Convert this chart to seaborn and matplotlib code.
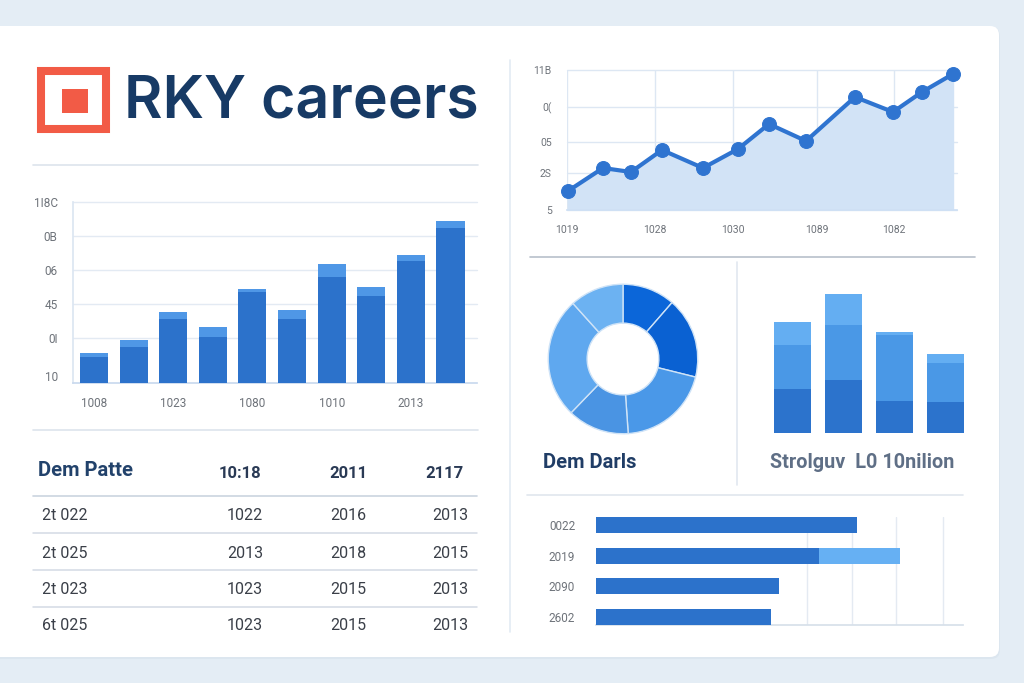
import numpy as np
import matplotlib
matplotlib.use('Agg')
import matplotlib.pyplot as plt
import seaborn as sns
from matplotlib.patches import FancyBboxPatch, Rectangle

# ---- data ----
bar_x = list(range(10))
bar_cap = [30, 43, 71, 56, 94, 73, 119, 96, 128, 162]
bar_main = [26, 36, 64, 46, 91, 64, 106, 87, 122, 155]
bar_xtick_labels = ['1008', '', '1023', '', '1080', '', '1010', '', '2013', '']
bar_ytick_vals = [7, 45, 79, 113, 147, 181]
bar_ytick_labels = ['10', '0I', '45', '06', '0B', '1I8C']

line_x = [1, 36, 64, 95, 136, 171, 202, 239, 288, 326, 355, 386]
line_y = [19, 42, 38, 60, 42, 61, 86, 69, 113, 98, 118, 136]
line_xtick_vals = [0, 88, 166, 250, 327]
line_xtick_labels = ['1019', '1028', '1030', '1089', '1082']
line_ytick_vals = [0, 37, 68, 103, 140]
line_ytick_labels = ['5', '2S', '05', '0(', '11B']

donut_vals = [41, 63, 72, 48, 94, 42]
donut_colors = ['#0b66d9', '#0a61d2', '#4a98e8', '#4a94e3', '#5fa8ef', '#6cb2f2']

stack_cats = ['a', 'b', 'c', 'd']
stack_low = [44, 53, 32, 31]
stack_mid = [44, 55, 66, 39]
stack_top = [23, 31, 3, 9]

hbar_labels = ['0022', '2019', '2090', '2602']
hbar_main = [261, 223, 183, 175]
hbar_extra = [0, 81, 0, 0]

table_header = ['Dem Patte', '10:18', '2011', '2117']
table_rows = [['2t 022', '1022', '2016', '2013'],
              ['2t 025', '2013', '2018', '2015'],
              ['2t 023', '1023', '2015', '2013'],
              ['6t 025', '1023', '2015', '2013']]

# ---- colours ----
dark = '#2c72cb'
light = '#4f97e6'
navy = '#173a65'

sns.set_theme(style='white')
plt.rcParams['font.family'] = ['Roboto', 'DejaVu Sans']

W, H = 1024, 683
fig = plt.figure(figsize=(10.24, 6.83), dpi=100)
fig.patch.set_facecolor('#e4edf5')


def rect(x0, y0, x1, y1):
    return [x0 / W, 1 - y1 / H, (x1 - x0) / W, (y1 - y0) / H]


# background card + decorations
bg = fig.add_axes([0, 0, 1, 1])
bg.set_xlim(0, W)
bg.set_ylim(H, 0)
bg.axis('off')
bg.add_patch(FancyBboxPatch((-20, 27), 1020, 632, boxstyle='round,pad=0,rounding_size=9',
                            fc='#d8e2ec', ec='none', alpha=0.6))
bg.add_patch(FancyBboxPatch((-20, 26), 1019, 631, boxstyle='round,pad=0,rounding_size=9',
                            fc='white', ec='none'))

# logo
bg.add_patch(Rectangle((41, 71), 65, 58, fill=False, ec='#f25b46', lw=5.8))
bg.add_patch(Rectangle((62, 89), 26, 24, fc='#f25b46', ec='none'))
bg.text(124, 118, 'RKY careers', fontsize=42.5, fontweight='semibold', color=navy,
        family=['Inter', 'DejaVu Sans'], va='baseline', ha='left')

# separator lines
bg.plot([33, 478], [165, 165], color='#dde4ec', lw=1.2)
bg.plot([33, 478], [430, 430], color='#dde4ec', lw=1.2)
bg.plot([510, 510], [60, 632], color='#e3ebf4', lw=1.2)
bg.plot([530, 975], [257, 257], color='#b8c0cb', lw=1.2)
bg.plot([737, 737], [262, 485], color='#e1e8f0', lw=1.2)
bg.plot([527, 963], [495, 495], color='#e0e6ee', lw=1.2)

# table
bg.text(38, 471, table_header[0], fontsize=14.5, fontweight='bold', color='#22426b', va='center')
col_x = [240, 348, 445]
for cx, t in zip(col_x, table_header[1:]):
    bg.text(cx, 473, t, fontsize=12, fontweight='bold', color='#2a3a55', ha='center', va='center')
bg.plot([33, 477], [496, 496], color='#cbd4df', lw=1.2)
row_y = [515, 553, 589, 626]
for ry, row in zip(row_y, table_rows):
    bg.text(42, ry, row[0], fontsize=11.5, color='#3a3f48', va='center')
    for cx, v in zip([245, 348, 450], row[1:]):
        bg.text(cx, ry, v, fontsize=11.5, color='#3a3f48', ha='center', va='center')
for ly in [533, 570, 607]:
    bg.plot([33, 477], [ly, ly], color='#d3dae4', lw=1.1)

# panel labels
bg.text(543, 462, 'Dem Darls', fontsize=14.5, fontweight='bold', color='#203d66', va='center')
bg.text(770, 462, 'Strolguv  L0 10nilion', fontsize=14.3, fontweight='bold', color='#5f6f86', va='center')

# ---- bar chart ----
ax1 = fig.add_axes(rect(73, 202, 477, 383))
for y in bar_ytick_vals[1:]:
    ax1.axhline(y, color='#e3eaf3', lw=1, zorder=0, clip_on=False)
sns.barplot(x=bar_x, y=bar_cap, color=light, width=0.71, saturation=1, linewidth=0,
            ax=ax1, zorder=2)
sns.barplot(x=bar_x, y=bar_main, color=dark, width=0.71, saturation=1, linewidth=0,
            ax=ax1, zorder=3)
ax1.set_xlim(-0.53, 9.67)
ax1.set_ylim(0, 181)
ax1.set_xticks(bar_x)
ax1.set_xticklabels(bar_xtick_labels)
ax1.set_yticks(bar_ytick_vals)
ax1.set_yticklabels(bar_ytick_labels)
ax1.tick_params(axis='both', length=0, labelsize=8.5, labelcolor='#6e737a')
ax1.tick_params(axis='y', pad=11)
ax1.tick_params(axis='x', pad=10)
ax1.set_xlabel('')
ax1.set_ylabel('')
for s in ['top', 'right']:
    ax1.spines[s].set_visible(False)
ax1.spines['left'].set_color('#dce6f2')
ax1.spines['bottom'].set_color('#c9d9ee')
ax1.patch.set_alpha(0)

# ---- line chart ----
ax2 = fig.add_axes(rect(567, 70, 957, 210))
for x in line_xtick_vals:
    ax2.axvline(x, color='#dde7f3', lw=1, zorder=0)
for y in line_ytick_vals:
    ax2.axhline(y, color='#dde7f3', lw=1, zorder=0, clip_on=False)
ax2.fill_between(line_x, line_y, color='#d2e3f6', zorder=1)
sns.lineplot(x=line_x, y=line_y, color='#2f74d0', lw=3, marker='o', markersize=10,
             markeredgecolor='#2f74d0', ax=ax2, zorder=3, clip_on=False)
ax2.set_xlim(0, 390)
ax2.set_ylim(0, 140)
ax2.set_xticks(line_xtick_vals)
ax2.set_xticklabels(line_xtick_labels)
ax2.set_yticks(line_ytick_vals)
ax2.set_yticklabels(line_ytick_labels)
ax2.tick_params(axis='both', length=0, labelsize=7.5, labelcolor='#6e737a')
ax2.tick_params(axis='y', pad=11)
ax2.tick_params(axis='x', pad=11)
for s in ['top', 'right', 'left']:
    ax2.spines[s].set_visible(False)
ax2.spines['bottom'].set_color('#cfe0f4')
ax2.patch.set_alpha(0)

# ---- donut ----
ax3 = fig.add_axes(rect(546, 282, 700, 436))
ax3.pie(donut_vals, colors=donut_colors, startangle=90, counterclock=False,
        wedgeprops=dict(width=0.52, edgecolor='#cfe3f7', linewidth=1.0))
ax3.set_xlim(-1.03, 1.03)
ax3.set_ylim(-1.03, 1.03)
ax3.set_aspect('equal')
ax3.axis('off')

# ---- stacked bars ----
ax4 = fig.add_axes(rect(767, 280, 969, 433))
stack_mid_top = [a + b for a, b in zip(stack_low, stack_mid)]
stack_total = [a + b for a, b in zip(stack_mid_top, stack_top)]
sns.barplot(x=stack_cats, y=stack_total, color='#64aef2', width=0.72, saturation=1,
            linewidth=0, ax=ax4)
sns.barplot(x=stack_cats, y=stack_mid_top, color='#4a98e6', width=0.72, saturation=1,
            linewidth=0, ax=ax4)
sns.barplot(x=stack_cats, y=stack_low, color='#2c73cc', width=0.72, saturation=1,
            linewidth=0, ax=ax4)
ax4.set_xlim(-0.49, 3.45)
ax4.set_ylim(0, 153)
ax4.axis('off')

# ---- horizontal bars ----
ax5 = fig.add_axes(rect(596, 517, 963, 625))
for x in [211, 256, 300, 347]:
    ax5.axvline(x, color='#e4eaf2', lw=1, zorder=0)
hbar_total = [a + b for a, b in zip(hbar_main, hbar_extra)]
sns.barplot(x=hbar_total, y=hbar_labels, orient='h', color='#66b0f3', width=0.52,
            saturation=1, linewidth=0, ax=ax5, zorder=2)
sns.barplot(x=hbar_main, y=hbar_labels, orient='h', color=dark, width=0.52,
            saturation=1, linewidth=0, ax=ax5, zorder=3)
ax5.set_xlim(0, 367)
ax5.set_ylim(3.26, -0.26)
ax5.set_xticks([])
ax5.set_xlabel('')
ax5.set_ylabel('')
ax5.tick_params(axis='y', length=0, labelsize=8.5, labelcolor='#6e737a', pad=15)
for s in ['top', 'right', 'left']:
    ax5.spines[s].set_visible(False)
ax5.spines['bottom'].set_color('#d7e0ea')
ax5.patch.set_alpha(0)

fig.savefig('out.png', dpi=100)
